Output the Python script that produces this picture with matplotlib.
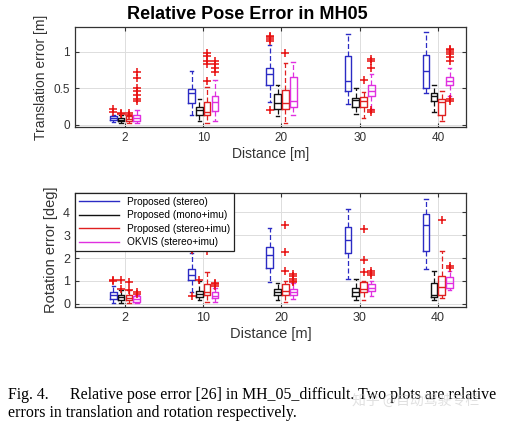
import matplotlib
matplotlib.use("Agg")
import matplotlib.pyplot as plt
from matplotlib.lines import Line2D

plt.rcParams["font.family"] = ["Liberation Sans", "DejaVu Sans"]

distances = ["2", "10", "20", "30", "40"]
methods = ["Proposed (stereo)", "Proposed (mono+imu)", "Proposed (stereo+imu)", "OKVIS (stereo+imu)"]
colors = ["#2b2bc4", "#111111", "#e02020", "#e030e0"]

# Translation error [m]: per method, 5 distances
trans_q1 = [[0.07, 0.30, 0.55, 0.47, 0.51],
            [0.05, 0.14, 0.22, 0.24, 0.33],
            [0.05, 0.14, 0.22, 0.25, 0.13],
            [0.05, 0.19, 0.25, 0.40, 0.55]]
trans_med = [[0.09, 0.44, 0.70, 0.60, 0.74],
             [0.07, 0.20, 0.30, 0.34, 0.39],
             [0.08, 0.17, 0.30, 0.33, 0.31],
             [0.09, 0.31, 0.33, 0.47, 0.60]]
trans_q3 = [[0.12, 0.49, 0.78, 0.95, 0.96],
            [0.10, 0.25, 0.42, 0.37, 0.44],
            [0.12, 0.31, 0.48, 0.38, 0.36],
            [0.14, 0.40, 0.66, 0.55, 0.66]]
trans_lo = [[0.04, 0.14, 0.32, 0.29, 0.44],
            [0.02, 0.06, 0.12, 0.15, 0.17],
            [0.02, 0.02, 0.03, 0.10, 0.06],
            [0.02, 0.06, 0.13, 0.22, 0.40]]
trans_hi = [[0.14, 0.74, 1.10, 1.24, 1.27],
            [0.13, 0.35, 0.55, 0.50, 0.55],
            [0.13, 0.52, 0.85, 0.45, 0.46],
            [0.20, 0.62, 0.86, 0.70, 0.78]]
trans_out = [[[0.22, 0.17], [], [0.21, 1.15, 1.18, 1.20, 1.22], [], []],
             [[0.15, 0.16], [], [], [], []],
             [[0.14, 0.16], [0.60, 0.84, 0.87, 0.94, 0.99], [0.98], [0.61], []],
             [[0.33, 0.35, 0.41, 0.47, 0.51, 0.64, 0.72], [0.72, 0.78, 0.83, 0.88], [],
              [0.18, 0.20, 0.78, 0.87, 0.90], [0.33, 0.36, 0.88, 0.93, 0.97, 1.00, 1.02, 1.04]]]

# Rotation error [deg]
rot_q1 = [[0.23, 1.04, 1.58, 2.23, 2.31],
          [0.18, 0.30, 0.40, 0.35, 0.30],
          [0.15, 0.40, 0.40, 0.50, 0.40],
          [0.10, 0.25, 0.40, 0.55, 0.70]]
rot_med = [[0.38, 1.26, 2.13, 2.79, 3.45],
           [0.28, 0.42, 0.52, 0.50, 0.40],
           [0.25, 0.50, 0.55, 0.65, 0.75],
           [0.20, 0.35, 0.50, 0.70, 0.90]]
rot_q3 = [[0.53, 1.50, 2.50, 3.37, 3.91],
          [0.40, 0.55, 0.65, 0.70, 0.90],
          [0.40, 0.85, 0.85, 0.95, 1.20],
          [0.35, 0.50, 0.65, 0.85, 1.15]]
rot_lo = [[0.05, 0.50, 0.96, 1.10, 1.50],
          [0.03, 0.15, 0.15, 0.15, 0.15],
          [0.03, 0.10, 0.10, 0.15, 0.25],
          [0.02, 0.10, 0.20, 0.35, 0.60]]
rot_hi = [[0.80, 2.20, 3.33, 4.15, 4.58],
          [0.60, 1.00, 0.90, 1.10, 1.42],
          [0.60, 1.40, 1.00, 1.00, 2.30],
          [0.40, 0.70, 0.90, 1.00, 1.45]]
rot_out = [[[1.00, 1.05], [0.35, 2.35, 2.38], [], [], []],
           [[0.65, 1.05], [1.05], [], [], []],
           [[0.60, 0.95], [2.30], [1.45, 2.25, 3.45], [1.40, 1.90, 3.25], [3.65]],
           [[0.45, 0.50], [0.78, 0.85, 0.90], [0.95, 1.00, 1.10, 1.20, 1.30],
            [1.25, 1.35, 1.42], [1.55, 1.65]]]

offsets = [-0.15, -0.05, 0.05, 0.15]
AXC = "#333333"


def draw(ax, q1, med, q3, lo, hi, out):
    for m in range(4):
        stats = []
        for g in range(5):
            stats.append(dict(q1=q1[m][g], med=med[m][g], q3=q3[m][g],
                              whislo=lo[m][g], whishi=hi[m][g], fliers=out[m][g]))
        pos = [g + 1 + offsets[m] for g in range(5)]
        c = colors[m]
        ax.bxp(stats, positions=pos, widths=0.085, capwidths=0.045, manage_ticks=False,
               boxprops=dict(color=c, linewidth=1.0),
               medianprops=dict(color=c, linewidth=1.0),
               whiskerprops=dict(color=c, linewidth=0.9, linestyle=(0, (4, 2))),
               capprops=dict(color=c, linewidth=1.0),
               flierprops=dict(marker="+", markeredgecolor="#e81010", markersize=6,
                               markeredgewidth=1.1, linestyle="none"))
    ax.set_xlim(0.36, 5.36)
    ax.set_xticks(range(1, 6))
    ax.set_xticklabels(distances)
    ax.grid(True, color="#dddddd", linewidth=0.7)
    ax.set_axisbelow(True)
    ax.tick_params(direction="in", top=True, right=True, colors=AXC, length=3,
                   labelcolor="#333333")
    for s in ax.spines.values():
        s.set_color(AXC)
        s.set_linewidth(0.9)


fig = plt.figure(figsize=(5.05, 4.25), dpi=100)
ax1 = fig.add_axes([0.1485, 0.701, 0.7743, 0.2353])
ax2 = fig.add_axes([0.1485, 0.2776, 0.7743, 0.2682])

draw(ax1, trans_q1, trans_med, trans_q3, trans_lo, trans_hi, trans_out)
ax1.set_ylim(-0.03, 1.34)
ax1.set_yticks([0, 0.5, 1])
ax1.set_yticklabels(["0", "0.5", "1"])
ax1.tick_params(labelsize=8.5)
ax1.set_ylabel("Translation error [m]", fontsize=10, color="#333333")
ax1.set_xlabel("Distance [m]", fontsize=10, color="#333333", labelpad=2)

draw(ax2, rot_q1, rot_med, rot_q3, rot_lo, rot_hi, rot_out)
ax2.set_ylim(-0.14, 4.84)
ax2.set_yticks([0, 1, 2, 3, 4])
ax2.tick_params(labelsize=9)
ax2.set_ylabel("Rotation error [deg]", fontsize=10.5, color="#333333")
ax2.set_xlabel("Distance [m]", fontsize=10.5, color="#333333", labelpad=2)

handles = [Line2D([0], [0], color=c, linewidth=1.0) for c in colors]
leg = ax2.legend(handles, methods, loc="upper left", fontsize=7.3, fancybox=False,
                 framealpha=1, edgecolor="#222222", borderaxespad=0.0,
                 handlelength=4.0, labelspacing=0.35, borderpad=0.35)
leg.get_frame().set_linewidth(0.9)

fig.text(0.49, 0.965, "Relative Pose Error in MH05", ha="center", va="center",
         fontsize=13, fontweight="bold", color="black")

serif = "Liberation Serif"
fig.text(8 / 505, 1 - 395 / 425, "Fig. 4.", family=serif, fontsize=11.4, va="center")
fig.text(70 / 505, 1 - 395 / 425,
         "Relative pose error [26] in MH_05_difficult. Two plots are relative",
         family=serif, fontsize=11.4, va="center")
fig.text(8 / 505, 1 - 413 / 425, "errors in translation and rotation respectively.",
         family=serif, fontsize=11.4, va="center")
fig.text(352 / 505, 1 - 401 / 425, "知乎 @自动驾驶专栏", family=["Noto Sans CJK SC", "DejaVu Sans"],
         fontsize=10, va="center", color="#cccccc", alpha=0.6)

fig.savefig("out.png", dpi=100)
